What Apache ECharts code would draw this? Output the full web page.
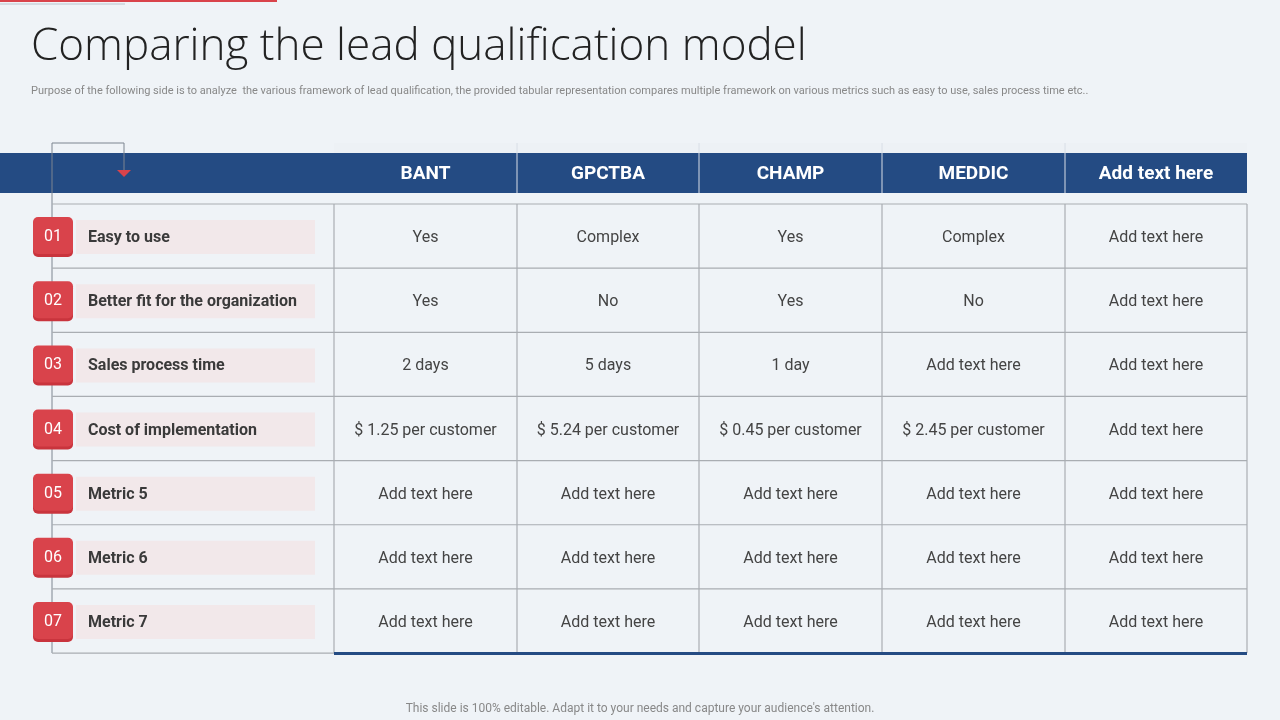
<!DOCTYPE html>
<html>
<head>
<meta charset="utf-8">
<script src="https://cdn.jsdelivr.net/npm/echarts@6/dist/echarts.min.js"></script>
<style>html,body{margin:0;padding:0;background:#eff3f7}#main{width:1280px;height:720px}</style>
</head>
<body>
<div id="main"></div>
<script>
var frameworks = ['BANT', 'GPCTBA', 'CHAMP', 'MEDDIC', 'Add text here'];
var metrics = ['Easy to use', 'Better fit for the organization', 'Sales process time', 'Cost of implementation', 'Metric 5', 'Metric 6', 'Metric 7'];
var bant = ['Yes', 'Yes', '2 days', '$ 1.25 per customer', 'Add text here', 'Add text here', 'Add text here'];
var gpctba = ['Complex', 'No', '5 days', '$ 5.24 per customer', 'Add text here', 'Add text here', 'Add text here'];
var champ = ['Yes', 'Yes', '1 day', '$ 0.45 per customer', 'Add text here', 'Add text here', 'Add text here'];
var meddic = ['Complex', 'No', 'Add text here', '$ 2.45 per customer', 'Add text here', 'Add text here', 'Add text here'];
var extra = ['Add text here', 'Add text here', 'Add text here', 'Add text here', 'Add text here', 'Add text here', 'Add text here'];
var columns = [bant, gpctba, champ, meddic, extra];

var font = 'Roboto, "Liberation Sans", sans-serif';
var colX = [334, 517, 699, 882, 1065, 1247];
var top0 = 204, rowH = 64.15;
var g = [];

// top accent lines
g.push({type: 'rect', shape: {x: 0, y: 0, width: 277, height: 2}, style: {fill: '#d9434b'}});
g.push({type: 'rect', shape: {x: 0, y: 3, width: 125, height: 2}, style: {fill: '#d5dbe2'}});

// title + subtitle + footer
g.push({type: 'text', x: 31, y: 25, style: {text: 'Comparing the lead qualification model', font: '300 44px "Open Sans", sans-serif', fill: '#222'}});
g.push({type: 'text', x: 31, y: 86, style: {text: 'Purpose of the following side is to analyze  the various framework of lead qualification, the provided tabular representation compares multiple framework on various metrics such as easy to use, sales process time etc..', font: '11px ' + font, fill: '#888'}});
g.push({type: 'text', x: 640, y: 703, style: {text: "This slide is 100% editable. Adapt it to your needs and capture your audience's attention.", font: '12px ' + font, fill: '#888', align: 'center'}});

// header bar
g.push({type: 'rect', shape: {x: 334, y: 143, width: 913, height: 10}, style: {fill: '#edf1f5'}});
g.push({type: 'rect', shape: {x: 0, y: 153, width: 1247, height: 40}, style: {fill: '#244b83'}});
frameworks.forEach(function (f, i) {
  g.push({type: 'text', x: (colX[i] + colX[i + 1]) / 2, y: 174, style: {text: f, font: 'bold 19px ' + font, fill: '#fff', align: 'center', verticalAlign: 'middle'}});
  if (i > 0) g.push({type: 'line', shape: {x1: colX[i], y1: 143, x2: colX[i], y2: 193}, style: {stroke: '#d8dee6', lineWidth: 1}});
});

// bracket + arrow
g.push({type: 'polyline', shape: {points: [[52, 653], [52, 143], [124, 143], [124, 170]]}, style: {stroke: '#7c8590', lineWidth: 1, fill: null}});
g.push({type: 'polygon', shape: {points: [[117, 170], [131, 170], [124, 177]]}, style: {fill: '#d9434b'}});

// grid lines
for (var r = 0; r <= metrics.length; r++) {
  var y = top0 + r * rowH;
  g.push({type: 'line', shape: {x1: 52, y1: y, x2: 1247, y2: y}, style: {stroke: '#a9adb2', lineWidth: 1.2}});
}
colX.forEach(function (x) {
  g.push({type: 'line', shape: {x1: x, y1: top0, x2: x, y2: top0 + metrics.length * rowH}, style: {stroke: '#a9adb2', lineWidth: 1.2}});
});
g.push({type: 'rect', shape: {x: 334, y: top0 + metrics.length * rowH - 1, width: 913, height: 3}, style: {fill: '#244b83'}});

// rows
metrics.forEach(function (m, r) {
  var cy = top0 + r * rowH + rowH / 2 + 2;
  g.push({type: 'rect', shape: {x: 76, y: cy - 18, width: 239, height: 34}, style: {fill: '#f2e8ea'}});
  g.push({type: 'rect', shape: {x: 33, y: cy - 19, width: 40, height: 38, r: 5}, style: {fill: '#c9343d'}});
  g.push({type: 'rect', shape: {x: 33, y: cy - 21, width: 40, height: 37, r: 5}, style: {fill: '#d9434b'}});
  g.push({type: 'text', x: 53, y: cy - 1, style: {text: ('0' + (r + 1)), font: '16px ' + font, fill: '#fff', align: 'center', verticalAlign: 'middle'}});
  g.push({type: 'text', x: 88, y: cy, style: {text: m, font: 'bold 16px ' + font, fill: '#3a3a3a', verticalAlign: 'middle'}});
  columns.forEach(function (col, c) {
    g.push({type: 'text', x: (colX[c] + colX[c + 1]) / 2, y: cy, style: {text: col[r], font: '16px ' + font, fill: '#444', align: 'center', verticalAlign: 'middle'}});
  });
});

var myChart = echarts.init(document.getElementById('main'));
myChart.setOption({backgroundColor: '#eff3f7', graphic: g});
</script>
</body>
</html>
